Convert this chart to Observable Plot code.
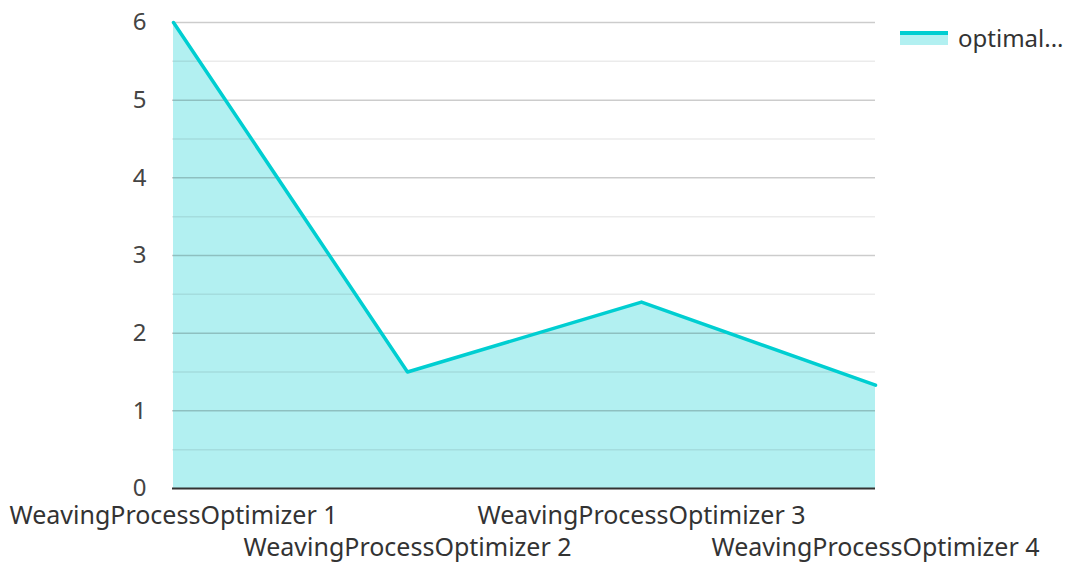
<!DOCTYPE html>
<html><head><meta charset="utf-8">
<script src="https://cdn.jsdelivr.net/npm/d3@7"></script>
<script src="https://cdn.jsdelivr.net/npm/@observablehq/plot@0.6"></script>
<style>
body{margin:0;background:#fff;font-family:"Noto Sans",sans-serif;}
#wrap{position:relative;width:1069px;height:562px;}
#legend{position:absolute;left:900px;top:26px;display:flex;align-items:center;font-size:24px;color:#333;line-height:1;}
#legend .sw{width:48px;height:14px;position:relative;margin-right:10px;}
#legend .sw .ln{position:absolute;left:0;top:0;width:48px;height:4px;background:#00CED1;}
#legend .sw .ar{position:absolute;left:0;top:4px;width:48px;height:10px;background:rgba(0,206,209,0.3);}
</style></head>
<body><div id="wrap"><div id="legend"><div class="sw"><div class="ln"></div><div class="ar"></div></div><span>optimal...</span></div></div>
<script>
const categories = ["WeavingProcessOptimizer 1","WeavingProcessOptimizer 2","WeavingProcessOptimizer 3","WeavingProcessOptimizer 4"];
const optimal = [6, 1.5, 2.4, 1.33];
const yTicks = [0,1,2,3,4,5,6];
const yMinor = [0.5,1.5,2.5,3.5,4.5,5.5];
const seriesName = "optimal...";

const data = categories.map((c,i)=>({cat:c, v:optimal[i]}));
const row1 = categories.filter((c,i)=>i%2===0);
const row2 = categories.filter((c,i)=>i%2===1);
const chart = Plot.plot({
  width:1069, height:562,
  marginLeft:172, marginRight:194, marginTop:22, marginBottom:74,
  style:{fontFamily:"Noto Sans", fontSize:"25px", color:"#333", background:"#fff", overflow:"visible"},
  x:{type:"point", domain:categories, label:null, padding:0, axis:null},
  y:{domain:[0,6], label:null, axis:null},
  marks:[
    Plot.areaY(data,{x:"cat", y:"v", fill:"#00CED1", fillOpacity:0.3}),
    Plot.ruleY(yMinor,{stroke:"#000", strokeOpacity:0.08, strokeWidth:1.5}),
    Plot.ruleY(yTicks.filter(d=>d>0),{stroke:"#000", strokeOpacity:0.2, strokeWidth:1.5}),
    Plot.lineY(data,{x:"cat", y:"v", stroke:"#00CED1", strokeWidth:3.5}),
    Plot.ruleY([0],{stroke:"#333", strokeWidth:2}),
    Plot.text(yTicks,{y:d=>d, text:d=>String(d), frameAnchor:"left", textAnchor:"end", dx:-26, fontSize:24, fill:"#444"}),
    Plot.text(row1,{x:d=>d, text:d=>d, frameAnchor:"bottom", dy:35, fontSize:25, fill:"#333"}),
    Plot.text(row2,{x:d=>d, text:d=>d, frameAnchor:"bottom", dy:67, fontSize:25, fill:"#333"})
  ]
});
document.getElementById("wrap").prepend(chart);
</script></body></html>
